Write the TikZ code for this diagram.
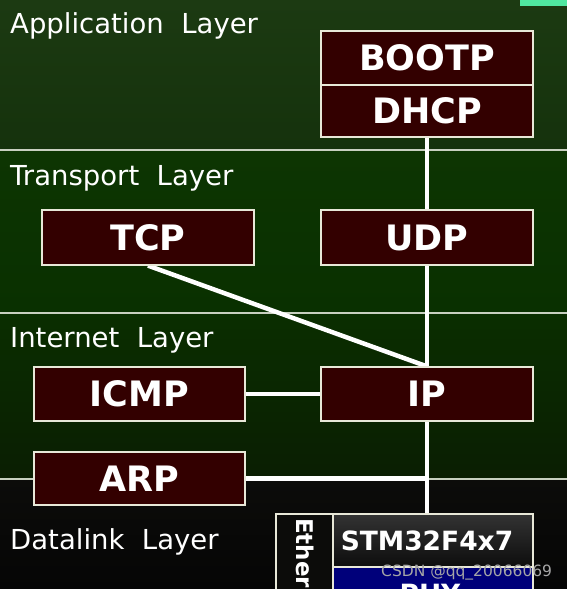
\documentclass[tikz,border=0pt]{standalone}
\usepackage{fontspec}
\setmainfont{DejaVu Sans}
\usetikzlibrary{calc}
\pgfdeclarelayer{bg}
\pgfdeclarelayer{connlayer}
\pgfsetlayers{bg,connlayer,main}
\definecolor{boxfill}{HTML}{330000}
\definecolor{boxline}{HTML}{E8E8D8}
\definecolor{appA}{HTML}{1C3A12}
\definecolor{appB}{HTML}{15320C}
\definecolor{trA}{HTML}{0D3502}
\definecolor{trB}{HTML}{093000}
\definecolor{inA}{HTML}{0A2E00}
\definecolor{inB}{HTML}{0A1E02}
\definecolor{dlA}{HTML}{0C0C0A}
\definecolor{dlB}{HTML}{050505}
\definecolor{phyblue}{HTML}{00007A}
\definecolor{sliver}{HTML}{50E8A0}
\definecolor{sepline}{HTML}{C8D0C0}
\tikzset{
  proto/.style={draw=boxline, line width=1.2pt, fill=boxfill, text=white,
    font=\bfseries\fontsize{35}{38}\selectfont, inner sep=0pt,
    minimum width=212pt, minimum height=54pt},
  layerlabel/.style={anchor=base west, text=white, inner sep=0pt,
    font=\fontsize{27.5}{31}\selectfont},
  conn/.style={draw=white, line width=4.5pt},
  sep/.style={draw=sepline, line width=1.2pt},
}
\begin{document}
\begin{tikzpicture}[x=1pt,y=-1pt]
\useasboundingbox (0,0) rectangle (567,589);
\clip (0,0) rectangle (567,589);
% layer backgrounds
\begin{pgfonlayer}{bg}
\shade[top color=appA, bottom color=appB] (0,0) rectangle (567,150);
\shade[top color=trA, bottom color=trB] (0,150) rectangle (567,313);
\shade[top color=inA, bottom color=inB] (0,313) rectangle (567,479);
\shade[top color=dlA, bottom color=dlB] (0,479) rectangle (567,589);
\fill[sliver] (520,-1) rectangle (567,6);
\draw[sep] (0,150) -- (567,150);
\draw[sep] (0,313) -- (567,313);
\draw[sep] (0,479) -- (567,479);
\end{pgfonlayer}
% layer labels
\node[layerlabel] (lapp) at (10,33) {Application\ \ Layer};
\node[layerlabel] (ltr) at (10,185) {Transport\ \ Layer};
\node[layerlabel] (lin) at (10,347) {Internet\ \ Layer};
\node[layerlabel] (ldl) at (10,549) {Datalink\ \ Layer};
% protocol boxes
\node[proto] (bootp) at (427,58) {BOOTP};
\node[proto, minimum height=52pt] (dhcp) at (427,111) {DHCP};
\node[proto, minimum height=55pt] (tcp) at (148,237.5) {TCP};
\node[proto, minimum height=55pt] (udp) at (427,237.5) {UDP};
\node[proto, minimum width=211pt] (icmp) at (139.5,394) {ICMP};
\node[proto] (ip) at (427,394) {IP};
\node[proto, minimum width=211pt, minimum height=53pt] (arp) at (139.5,478.5) {ARP};
% ethernet block
\fill[dlA] (276,514) rectangle (333,600);
\node[draw=boxline, line width=1.2pt, top color=black!80!white, bottom color=black!95!white,
  inner sep=0pt, minimum width=200pt, minimum height=53pt] (stm) at (433,540.5) {};
\node[text=white, inner sep=0pt, font=\bfseries\fontsize{26.5}{30}\selectfont]
  (stmtext) at (427,540.5) {STM32F4x7};
\node[draw=boxline, line width=1.2pt, fill=phyblue, inner sep=0pt,
  minimum width=200pt, minimum height=40pt, anchor=north] (phy) at (433,567) {};
\node[anchor=base, text=white, inner sep=0pt, font=\bfseries\fontsize{26.5}{30}\selectfont]
  (phytext) at (430,603) {PHY};
\draw[draw=boxline, line width=1.2pt] (276,600) |- (533,514);
\draw[draw=boxline, line width=1.2pt] (333,514) -- (333,600);
\node[rotate=-90, anchor=base west, text=white, inner sep=0pt,
  font=\bfseries\fontsize{23}{26}\selectfont] (eth) at (296,518) {Ethernet};
\coordinate (ethtop) at (427,514);
% connectors
\begin{pgfonlayer}{connlayer}
\draw[conn] (dhcp.south) -- (udp.north);
\draw[conn] (udp.south) -- (ip.north);
\draw[conn] (tcp.south) -- (ip.north);
\draw[conn] (icmp.east) -- (ip.west);
\draw[conn] (ip.south) -- (ethtop);
\coordinate (arpjoin) at (ip.south |- arp.east);
\draw[conn] (arp.east) -- (arpjoin);
\end{pgfonlayer}
% watermark
\node[anchor=base west, text=gray!70!white, inner sep=0pt,
  font=\fontsize{15.5}{18}\selectfont] (wm) at (381,576) {CSDN @qq\_20066069};
\end{tikzpicture}
\end{document}
